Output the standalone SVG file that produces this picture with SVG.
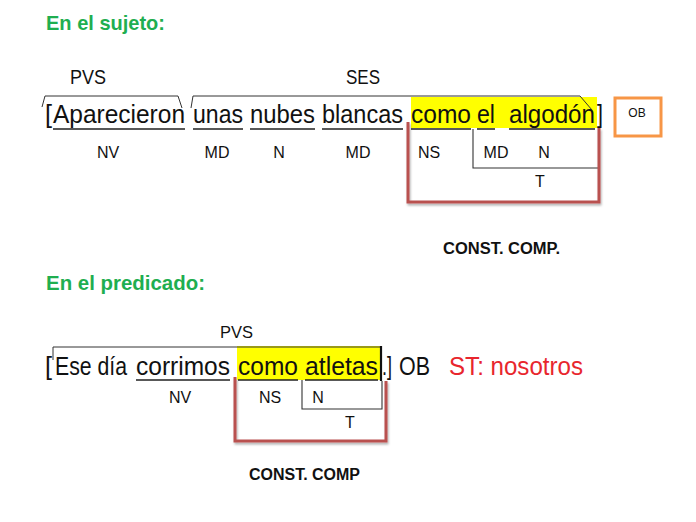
<svg xmlns="http://www.w3.org/2000/svg" width="696" height="522" viewBox="0 0 696 522">
<defs>
<style>
text{font-family:"Liberation Sans",Arial,sans-serif;fill:#111}
.title{font-weight:bold;font-size:21px;fill:#1fae50}
.big{font-size:25px}
.big2{font-size:25px}
.lab{font-size:16px;text-anchor:middle}
.bold{font-weight:bold;font-size:16px}
.ul{stroke:#222;stroke-width:1.6;fill:none}
.brk{stroke:#333;stroke-width:1;fill:none}
.inner{stroke:#333;stroke-width:1.1;fill:none}
.red{stroke:#b9514f;stroke-width:3;fill:none;filter:url(#sh)}
.hl{fill:#ffff00}
</style>
<filter id="sh" x="-10%" y="-10%" width="120%" height="130%">
<feDropShadow dx="1" dy="2" stdDeviation="1.2" flood-color="#000" flood-opacity="0.3"/>
</filter>
</defs>
<rect width="696" height="522" fill="#fff"/>

<g id="title1"><text class="title" x="46" y="30" textLength="119" lengthAdjust="spacingAndGlyphs">En el sujeto:</text></g>

<g id="sentence1">
<rect class="hl" x="411" y="97" width="186" height="31"/>
<text x="70" y="84" font-size="20" textLength="36" lengthAdjust="spacingAndGlyphs">PVS</text>
<text x="346" y="84" font-size="20" textLength="34" lengthAdjust="spacingAndGlyphs">SES</text>
<text class="big" x="45" y="123" textLength="7" lengthAdjust="spacingAndGlyphs">[</text>
<text class="big" x="53" y="123" textLength="132" lengthAdjust="spacingAndGlyphs">Aparecieron</text>
<text class="big" x="193" y="123" textLength="50" lengthAdjust="spacingAndGlyphs">unas</text>
<text class="big" x="250" y="123" textLength="65" lengthAdjust="spacingAndGlyphs">nubes</text>
<text class="big" x="322" y="123" textLength="81" lengthAdjust="spacingAndGlyphs">blancas</text>
<text class="big" x="411" y="123" textLength="60" lengthAdjust="spacingAndGlyphs">como</text>
<text class="big" x="477" y="123" textLength="18" lengthAdjust="spacingAndGlyphs">el</text>
<text class="big" x="509" y="123" textLength="86" lengthAdjust="spacingAndGlyphs">algodón</text>
<text class="big" x="597" y="123" textLength="6" lengthAdjust="spacingAndGlyphs">]</text>
<path class="ul" d="M53 129H185M193 129H243M250 129H315M322 129H403M411 129H471M477 129H495M509 129H595"/>
<polyline class="brk" points="42,107 45,96 178,96 182,108"/>
<polyline class="brk" points="191,108 193,96 580,96 592,110"/>
</g>

<g id="ob1">
<rect x="615" y="98" width="46" height="38" fill="none" stroke="#f79646" stroke-width="3"/>
<text x="637" y="117" font-size="12" text-anchor="middle">OB</text>
</g>

<g id="labels1">
<text class="lab" x="108" y="158">NV</text>
<text class="lab" x="217" y="158">MD</text>
<text class="lab" x="279" y="158">N</text>
<text class="lab" x="358" y="158">MD</text>
<text class="lab" x="429" y="158">NS</text>
<text class="lab" x="496" y="158">MD</text>
<text class="lab" x="544" y="158">N</text>
<text class="lab" x="540" y="187">T</text>
</g>

<g id="connectors">
<polyline class="inner" points="473,129 473,168 598,168"/>
<polyline class="red" points="408,122 408,202 599,202 599,128"/>
<polyline class="inner" points="302,377 302,409 382,409 382,381"/>
<polyline class="red" points="235,377 235,441 386,441 386,381"/>
</g>

<g id="cc1"><text class="bold" x="443" y="254" textLength="117" lengthAdjust="spacingAndGlyphs">CONST. COMP.</text></g>

<g id="title2"><text class="title" x="46" y="290" textLength="159" lengthAdjust="spacingAndGlyphs">En el predicado:</text></g>

<g id="sentence2">
<rect class="hl" x="237" y="346" width="143" height="34"/>
<text x="220" y="338" font-size="17" textLength="33" lengthAdjust="spacingAndGlyphs">PVS</text>
<polyline class="brk" points="53,360 53,347 380,347"/>
<line x1="381" y1="346" x2="381" y2="381" stroke="#111" stroke-width="2.2"/>
<text class="big2" x="45" y="375" textLength="7" lengthAdjust="spacingAndGlyphs">[</text>
<text class="big2" x="55" y="375" textLength="72" lengthAdjust="spacingAndGlyphs">Ese día</text>
<text class="big2" x="136" y="375" textLength="94" lengthAdjust="spacingAndGlyphs">corrimos</text>
<text class="big2" x="238" y="375" textLength="60" lengthAdjust="spacingAndGlyphs">como</text>
<text class="big2" x="305" y="375" textLength="73" lengthAdjust="spacingAndGlyphs">atletas</text>
<text class="big2" x="382" y="375" textLength="10" lengthAdjust="spacingAndGlyphs">.]</text>
<text class="big2" x="399" y="375" textLength="31" lengthAdjust="spacingAndGlyphs">OB</text>
<text class="big2" x="449" y="375" textLength="134" lengthAdjust="spacingAndGlyphs" style="fill:#e8262d">ST: nosotros</text>
<path class="ul" d="M136 380H230M238 380H298M305 380H378"/>
</g>

<g id="labels2">
<text class="lab" x="180" y="403">NV</text>
<text class="lab" x="270" y="403">NS</text>
<text class="lab" x="318" y="403">N</text>
<text class="lab" x="350" y="428">T</text>
</g>

<g id="cc2"><text class="bold" x="249" y="480" textLength="111" lengthAdjust="spacingAndGlyphs">CONST. COMP</text></g>
</svg>
